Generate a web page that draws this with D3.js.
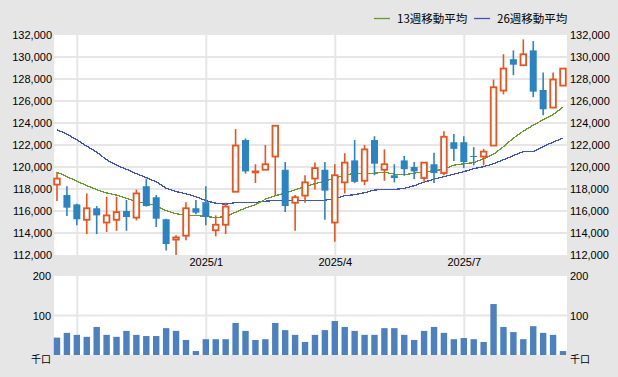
<!DOCTYPE html>
<html>
<head>
<meta charset="utf-8">
<script src="https://d3js.org/d3.v7.min.js"></script>
<style>
  body { margin: 0; background: #e6e6e6; }
  svg { display: block; font-family: "Liberation Sans", Arial, sans-serif; }
  .axis text { font-size: 11px; fill: #000; }
  .axis path, .axis line { display: none; }
  .legend text { font-family: "Noto Sans CJK JP", sans-serif; font-size: 11.5px; }
</style>
</head>
<body>
<svg id="chart"></svg>
<script>
// weekly data (week starting monday)
var dates = ["2024-09-23","2024-09-30","2024-10-07","2024-10-14","2024-10-21","2024-10-28","2024-11-04","2024-11-11","2024-11-18","2024-11-25",
             "2024-12-02","2024-12-09","2024-12-16","2024-12-23","2024-12-30","2025-01-06","2025-01-13","2025-01-20","2025-01-27","2025-02-03",
             "2025-02-10","2025-02-17","2025-02-24","2025-03-03","2025-03-10","2025-03-17","2025-03-24","2025-03-31","2025-04-07","2025-04-14",
             "2025-04-21","2025-04-28","2025-05-05","2025-05-12","2025-05-19","2025-05-26","2025-06-02","2025-06-09","2025-06-16","2025-06-23",
             "2025-06-30","2025-07-07","2025-07-14","2025-07-21","2025-07-28","2025-08-04","2025-08-11","2025-08-18","2025-08-25","2025-09-01",
             "2025-09-08","2025-09-15"];

var opens  = [118400,117450,116600,115200,116250,114950,115200,116000,115400,118250,
              117250,115250,113400,113750,116250,116800,114250,114750,117750,122450,
              119550,119750,120950,119750,116750,117400,118950,119750,114950,118600,
              120600,118750,122450,119750,119250,120600,120000,119000,120250,119450,
              122250,122250,121000,120950,121950,126950,129800,129250,130600,127000,
              125400,127400];
var highs  = [119550,118250,116650,117600,116450,117300,117300,117000,117950,118950,
              117450,115300,113800,116800,117000,118250,115600,116750,123450,122600,
              120250,122000,123800,120450,117450,119250,120400,120450,120250,121250,
              122450,122000,122800,121600,120250,121000,120450,120400,121300,123250,
              123000,122800,121800,121650,127950,130250,130600,131600,131450,128600,
              128600,128950];
var lows   = [116900,115550,114700,113900,113900,114100,114200,114200,115150,116400,
              114550,112400,112000,113350,115700,114700,113700,113900,117750,119400,
              118550,119750,117400,115900,114200,116750,117950,115200,113200,117600,
              118550,118350,119250,118750,118600,119200,118900,118600,118550,119250,
              120550,119900,120150,120150,121950,126600,128350,129250,126350,124700,
              125400,127400];
var closes = [118950,116300,115250,116250,115600,115600,115900,115450,117600,116450,
              115300,113000,113600,116250,115850,115450,114750,116400,121950,119600,
              119600,120250,123750,116450,117250,118600,119900,117850,119250,120400,
              118650,121600,120300,120250,119000,119800,119600,120400,119450,122750,
              121650,120450,120950,121400,127250,128950,129300,130250,126850,125250,
              127950,128950];

var ma13 = [119530,119120,118710,118300,117940,117640,117440,117160,116850,116710,
            116480,116030,115760,115620,115600,115500,115410,115480,115890,116260,
            116560,117070,117390,117620,117940,118210,118480,118710,118980,119260,
            119440,119410,119440,119530,119350,119300,119440,119570,119660,119800,
            120160,120300,120390,120760,121160,121850,122620,123260,123800,124300,
            124760,125440];
var ma26 = [123390,122980,122480,121890,121350,120660,120160,119800,119390,119030,
            118660,118070,117760,117570,117300,116940,116710,116620,116770,116770,
            116770,116890,116960,116980,116980,116980,116980,116980,117120,117390,
            117480,117660,117910,117960,117960,118050,118300,118620,118890,119120,
            119350,119570,119850,120030,120300,120660,121030,121410,121410,121850,
            122260,122620];

// 千口
var volumes = [44,56,51,46,71,51,46,61,51,48,
               48,68,61,38,10,40,40,40,81,61,
               38,40,81,63,51,33,51,63,86,71,
               61,51,51,68,68,51,38,61,71,56,
               40,43,40,33,129,71,58,40,73,56,
               51,10];

var gridDates = ["2024-10-07","2025-01-06","2025-04-07","2025-07-07"];
var labelDates = ["2025-01-06","2025-04-07","2025-07-07"];
var labelText = ["2025/1","2025/4","2025/7"];
var priceTicks = [112000,114000,116000,118000,120000,122000,124000,126000,128000,130000,132000];
var volTicks = [100,200];

var width = 618, height = 377;
var plot = {left: 54, right: 567, top: 35, bottom: 255};
var vplot = {top: 276, bottom: 355};

var upColor = "#e8541c", downColor = "#2a84c4", volColor = "#4d80be";
var ma13Color = "#6a9a2c", ma26Color = "#4452c0", gridColor = "#e6e6e6";

var svg = d3.select("#chart").attr("width", width).attr("height", height);

var x = d3.scalePoint().domain(dates).range([57, 563]);
var y = d3.scaleLinear().domain([112000, 132000]).range([plot.bottom, plot.top]);
var yv = d3.scaleLinear().domain([0, 200]).range([vplot.bottom, vplot.top]);

// panels
svg.append("rect").attr("x", plot.left).attr("y", plot.top)
   .attr("width", plot.right - plot.left).attr("height", plot.bottom - plot.top).attr("fill", "#fff");
svg.append("rect").attr("x", plot.left).attr("y", vplot.top)
   .attr("width", plot.right - plot.left).attr("height", vplot.bottom - vplot.top).attr("fill", "#fff");

// grid
var grid = svg.append("g").attr("stroke", gridColor).attr("stroke-width", 2);
grid.selectAll(".hg").data(priceTicks.slice(1, -1)).enter().append("line")
    .attr("x1", plot.left).attr("x2", plot.right)
    .attr("y1", d => y(d)).attr("y2", d => y(d));
grid.selectAll(".vg").data(gridDates).enter().append("line")
    .attr("x1", d => x(d) + 0.5).attr("x2", d => x(d) + 0.5)
    .attr("y1", plot.top).attr("y2", plot.bottom);
grid.append("line").attr("x1", plot.left).attr("x2", plot.right)
    .attr("y1", yv(100)).attr("y2", yv(100));
grid.selectAll(".vg2").data(gridDates).enter().append("line")
    .attr("x1", d => x(d) + 0.5).attr("x2", d => x(d) + 0.5)
    .attr("y1", vplot.top).attr("y2", vplot.bottom);

// moving averages
var line = d3.line().x((d, i) => x(dates[i])).y(d => y(d));
svg.append("path").attr("d", line(ma26)).attr("fill", "none")
   .attr("stroke", ma26Color).attr("stroke-width", 1.3).attr("shape-rendering", "crispEdges");
svg.append("path").attr("d", line(ma13)).attr("fill", "none")
   .attr("stroke", ma13Color).attr("stroke-width", 1.3).attr("shape-rendering", "crispEdges");

// candles
var candles = svg.append("g").selectAll("g").data(dates).enter().append("g");
candles.append("line")
    .attr("x1", d => x(d)).attr("x2", d => x(d))
    .attr("y1", (d, i) => y(highs[i])).attr("y2", (d, i) => y(lows[i]))
    .attr("stroke", (d, i) => closes[i] >= opens[i] ? upColor : downColor)
    .attr("stroke-width", 1.6);
candles.append("rect")
    .attr("x", (d, i) => closes[i] >= opens[i] ? x(d) - 2.8 : x(d) - 3.5)
    .attr("width", (d, i) => closes[i] >= opens[i] ? 5.6 : 7)
    .attr("y", (d, i) => y(Math.max(opens[i], closes[i])))
    .attr("height", (d, i) => Math.max(1, Math.abs(y(opens[i]) - y(closes[i]))))
    .attr("fill", (d, i) => closes[i] >= opens[i] ? "#fff" : downColor)
    .attr("stroke", (d, i) => closes[i] >= opens[i] ? upColor : "none")
    .attr("stroke-width", 1.8);

// volume
svg.append("g").selectAll("rect").data(volumes).enter().append("rect")
    .attr("x", (d, i) => x(dates[i]) - 3.2)
    .attr("width", 6.4)
    .attr("y", d => yv(d))
    .attr("height", d => yv(0) - yv(d))
    .attr("fill", volColor);

// axes
var fmt = d3.format(",");
svg.append("g").attr("class", "axis").attr("transform", "translate(" + plot.left + ",0)")
   .call(d3.axisLeft(y).tickValues(priceTicks).tickFormat(fmt).tickSize(0).tickPadding(2));
svg.append("g").attr("class", "axis").attr("transform", "translate(" + plot.right + ",0)")
   .call(d3.axisRight(y).tickValues(priceTicks).tickFormat(fmt).tickSize(0).tickPadding(3));
svg.append("g").attr("class", "axis").attr("transform", "translate(" + plot.left + ",0)")
   .call(d3.axisLeft(yv).tickValues(volTicks).tickSize(0).tickPadding(3));
svg.append("g").attr("class", "axis").attr("transform", "translate(" + plot.right + ",0)")
   .call(d3.axisRight(yv).tickValues(volTicks).tickSize(0).tickPadding(3));
svg.append("g").attr("class", "axis").attr("transform", "translate(0," + plot.bottom + ")")
   .call(d3.axisBottom(x).tickValues(labelDates)
         .tickFormat(d => labelText[labelDates.indexOf(d)]).tickSize(0).tickPadding(3));

// 千口 unit labels
svg.append("text").attr("x", plot.left - 3).attr("y", 363).attr("text-anchor", "end")
   .attr("font-family", "Noto Sans CJK JP").attr("font-size", 10).text("千口");
svg.append("text").attr("x", plot.right + 3).attr("y", 363)
   .attr("font-family", "Noto Sans CJK JP").attr("font-size", 10).text("千口");

// legend
var legend = svg.append("g").attr("class", "legend");
var legendItems = [{name: "13週移動平均", color: ma13Color, x: 374}, {name: "26週移動平均", color: ma26Color, x: 474}];
legendItems.forEach(function (d) {
    legend.append("line").attr("x1", d.x).attr("x2", d.x + 16).attr("y1", 18.5).attr("y2", 18.5)
          .attr("stroke", d.color).attr("stroke-width", 1.3);
    legend.append("text").attr("x", d.x + 23).attr("y", 22.5).text(d.name);
});
</script>
</body>
</html>
